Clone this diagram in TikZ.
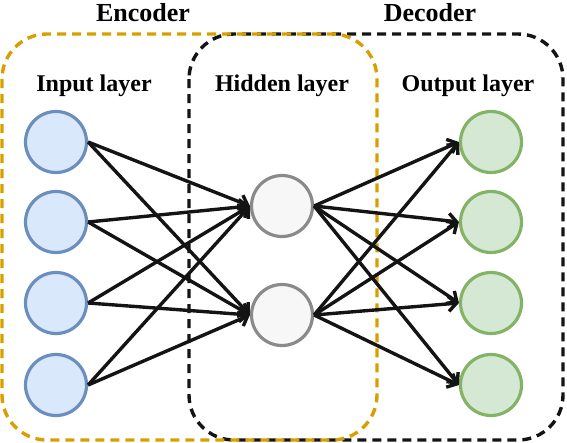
\documentclass[tikz,border=0pt]{standalone}
\usepackage{fontspec}
\setmainfont{Liberation Serif}
\usetikzlibrary{arrows.meta}
\definecolor{inblue}{HTML}{DAE8FC}
\definecolor{inbluedraw}{HTML}{6C8EBF}
\definecolor{outgreen}{HTML}{D5E8D4}
\definecolor{outgreendraw}{HTML}{82B366}
\definecolor{hidgray}{HTML}{F7F7F7}
\definecolor{hidgraydraw}{HTML}{8A8A8A}
\definecolor{encorange}{HTML}{D99E00}
\begin{document}
\begin{tikzpicture}[x=1pt, y=-1pt,
    neuron/.style={circle, line width=3.2pt, minimum size=61pt, inner sep=0pt},
    box/.style={line width=3.4pt, rounded corners=45pt, dash pattern=on 9pt off 6pt},
    link/.style={line width=3.4pt, black!92, -{Straight Barb[length=8pt,width=15pt]}},
    title/.style={font=\bfseries\fontsize{26}{30}\selectfont, anchor=base},
    layer/.style={font=\bfseries\fontsize{24}{28}\selectfont, anchor=base}]
    \useasboundingbox (0,0) rectangle (567,442);
    \draw[box, black!92] (189,34) rectangle (563,440);
    \draw[box, encorange] (2,34) rectangle (377,440);

    \node[title] (enc) at (143,21) {Encoder};
    \node[title] (dec) at (430,21) {Decoder};
    \node[layer] (inlab) at (94,91) {Input layer};
    \node[layer] (hidlab) at (282,91) {Hidden layer};
    \node[layer] (outlab) at (468,91) {Output layer};

    \foreach \i/\y in {1/142, 2/222, 3/303, 4/385} {
        \node[neuron, draw=inbluedraw, fill=inblue] (in\i) at (56,\y) {};
        \node[neuron, draw=outgreendraw, fill=outgreen] (out\i) at (491,\y) {};
    }
    \foreach \j/\y in {1/206, 2/315}
        \node[neuron, draw=hidgraydraw, fill=hidgray] (hid\j) at (282,\y) {};

    \foreach \i in {1,...,4} {
        \foreach \j in {1,2} {
            \draw[link] (in\i.east) -- (hid\j.west);
            \draw[link] (hid\j.east) -- (out\i.west);
        }
    }
\end{tikzpicture}
\end{document}
